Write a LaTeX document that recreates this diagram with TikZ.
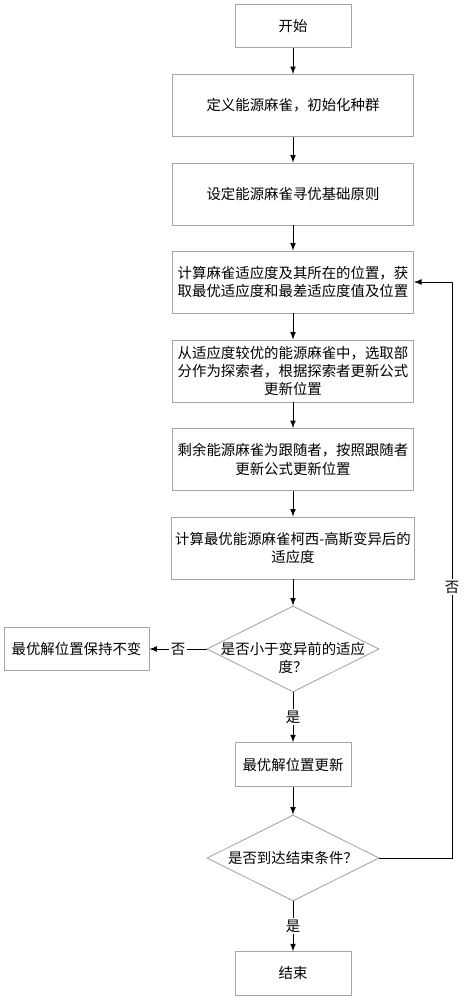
\documentclass[tikz,border=0pt]{standalone}
\usepackage{fontspec}
\newfontfamily\cjk{Noto Sans CJK SC}
\usepackage{tikz}
\usetikzlibrary{shapes, shapes.geometric, arrows, arrows.meta, calc}
\tikzstyle{process} = [rectangle, draw=gray!70, fill=white,
    align=center, minimum width=4.82cm, minimum height=1.24cm, inner sep=2pt]
\tikzstyle{terminal} = [rectangle, draw=gray!70, fill=white,
    minimum width=2.32cm, minimum height=0.87cm]
\tikzstyle{decision} = [diamond, draw=gray!70, minimum width=3.44cm,
    minimum height=1.72cm, inner sep=0pt]
\tikzstyle{line} = [draw, -latex]

\begin{document}
\begin{tikzpicture}[node distance = 1.77cm,
    font=\cjk\fontsize{8.2}{10.4}\selectfont, line width=0.5pt,
    answer/.style={fill=white, inner sep=1pt}
    ]
    \useasboundingbox (0,0) rectangle (9.26,-20);

    \node[terminal] (start) at (5.86,-0.52) {开始};
    \node[process, below of=start, node distance=1.59cm] (init) {定义能源麻雀，初始化种群};
    \node[process, below of=init] (rule) {设定能源麻雀寻优基础原则};
    \node[process, below of=rule, node distance=1.76cm] (calc)
        {计算麻雀适应度及其所在的位置，获\\取最优适应度和最差适应度值及位置};
    \node[process, below of=calc, node distance=1.78cm] (explore)
        {从适应度较优的能源麻雀中，选取部\\分作为探索者，根据探索者更新公式\\更新位置};
    \node[process, below of=explore] (follow)
        {剩余能源麻雀为跟随者，按照跟随者\\更新公式更新位置};
    \node[process, below of=follow] (mutate)
        {计算最优能源麻雀柯西-高斯变异后的\\适应度};
    \node[decision, below of=mutate, node distance=2.02cm,
        label={[align=center, yshift=-0.18cm]center:是否小于变异前的适应\\度？}] (dec1) {};
    \node[terminal, left of=dec1, node distance=4.33cm, minimum width=2.9cm] (keep) {最优解位置保持不变};
    \node[terminal, below of=dec1, node distance=2.31cm] (update) {最优解位置更新};
    \node[decision, below of=update, node distance=1.87cm,
        label={center:是否到达结束条件？}] (dec2) {};
    \node[terminal, below of=dec2, node distance=2.31cm] (stop) {结束};
    \coordinate[right of=dec2, node distance=3.18cm] (back);

    \draw[line] (start) -- (init);
    \draw[line] (init) -- (rule);
    \draw[line] (rule) -- (calc);
    \draw[line] (calc) -- (explore);
    \draw[line] (explore) -- (follow);
    \draw[line] (follow) -- (mutate);
    \draw[line] (mutate) -- (dec1);
    \draw[line] (dec1) -- node[answer] {否} (keep);
    \draw[line] (dec1) -- node[answer] {是} (update);
    \draw[line] (update) -- (dec2);
    \draw[line] (dec2) -- node[answer] {是} (stop);
    \draw[line] (dec2.east) -- (back) |- node[answer, pos=0.235] {否} (calc.east);
\end{tikzpicture}
\end{document}
